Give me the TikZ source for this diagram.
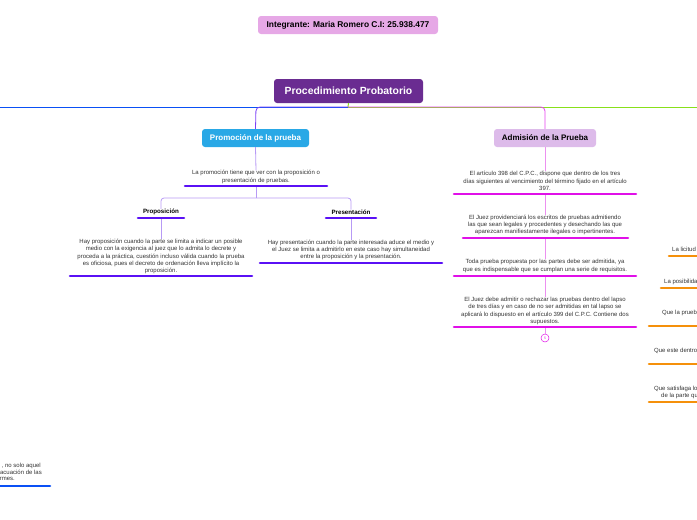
\documentclass[tikz,border=0pt]{standalone}
\usepackage{fontspec}
\setmainfont{Liberation Sans}
\begin{document}
\begin{tikzpicture}[x=1pt,y=-1pt,
  txt/.style={font=\fontsize{6}{7.4}\selectfont, text=black!80, align=center, inner sep=0pt},
  lbl/.style={font=\bfseries\fontsize{6.2}{7}\selectfont, inner sep=0pt},
  ul/.style={line width=2.6pt, line cap=round},
  con/.style={line width=0.8pt},
  hdr/.style={rounded corners=3pt, font=\bfseries\fontsize{8}{9}\selectfont, inner sep=0pt}]
\useasboundingbox (0,0) rectangle (697,520);
\clip (0,0) rectangle (697,520);
\definecolor{mainp}{HTML}{6A2C91}
\definecolor{cyanb}{HTML}{29A8E6}
\definecolor{lilac}{HTML}{DDBBEA}
\definecolor{pinkb}{HTML}{E6A8E6}
\definecolor{viol}{HTML}{5A10F5}
\definecolor{mag}{HTML}{E010E8}
\definecolor{org}{HTML}{F5900A}
\definecolor{blu}{HTML}{0A50F5}
\definecolor{lav}{HTML}{B79AF5}
\definecolor{lmag}{HTML}{EC90F0}
\definecolor{grn}{HTML}{88E01A}

\node[hdr, fill=pinkb, minimum width=180pt, minimum height=18pt, font=\bfseries\fontsize{8.4}{9}\selectfont] (int) at (348,25) {Integrante: Maria Romero C.I: 25.938.477};
\node[hdr, fill=mainp, text=white, minimum width=149pt, minimum height=24pt, font=\bfseries\fontsize{10.4}{11}\selectfont] (main) at (348.5,91) {Procedimiento Probatorio};

\coordinate (j) at (348,107);
\draw[line width=1pt, blu] (j) -- (0,107);
\draw[line width=1pt, grn] (j) -- (697,107);
\draw[line width=1pt, grn] (main.south) -- (j);

\node[hdr, fill=cyanb, text=white, minimum width=107pt, minimum height=18pt] (prom) at (255.5,138) {Promoción de la prueba};
\node[hdr, fill=lilac, minimum width=102pt, minimum height=18pt] (adm) at (545,138) {Admisión de la Prueba};
\draw[con, viol!80, rounded corners=4pt] (j) -- (256,107) -- (prom.north);
\draw[con, mag!80, rounded corners=4pt] (j) -- (545,107) -- (adm.north);

% Promocion branch
\node[txt] (p0) at (256,177) {La promoción tiene que ver con la proposición o\\presentación de pruebas.};
\draw[ul, viol] (185,186) -- (327,186);
\draw[con, lav] (prom.south) -- (p0.north);
\coordinate (b) at (256,198);
\draw[con, lav] (256,187) -- (b);
\node[lbl] (pro) at (161,212) {Proposición};
\node[lbl] (pre) at (351,212) {Presentación};
\draw[con, lav, rounded corners=3pt] (b) -- (161,198) -- (pro.north);
\draw[con, lav, rounded corners=3pt] (b) -- (351,198) -- (pre.north);
\draw[ul, viol] (138,218) -- (184,218);
\draw[ul, viol] (326,218) -- (376,218);
\node[txt] (pro1) at (161,256.5) {Hay proposición cuando la parte se limita a indicar un posible\\medio con la exigencia al juez que lo admita lo decrete y\\proceda a la práctica, cuestión incluso válida cuando la prueba\\es oficiosa, pues el decreto de ordenación lleva implícito la\\proposición.};
\draw[ul, viol] (70,276) -- (252,276);
\node[txt] (pre1) at (351,250) {Hay presentación cuando la parte interesada aduce el medio y\\el Juez se limita a admitirlo en este caso hay simultaneidad\\entre la proposición y la presentación.};
\draw[ul, viol] (260,263) -- (442,263);
\draw[con, lav] (161,219) -- (pro1.north);
\draw[con, lav] (351,219) -- (pre1.north);

% Admision branch
\node[txt] (a1) at (545,181) {El artículo 398 del C.P.C., dispone que dentro de los tres\\días siguientes al vencimiento del término fijado en el artículo\\397.};
\draw[ul, mag] (454,194) -- (636,194);
\node[txt] (a2) at (545,225) {El Juez providenciará los escritos de pruebas admitiendo\\las que sean legales y procedentes y desechando las que\\aparezcan manifiestamente ilegales o impertinentes.};
\draw[ul, mag] (463,238) -- (628,238);
\node[txt] (a3) at (545,266) {Toda prueba propuesta por las partes debe ser admitida, ya\\que es indispensable que se cumplan una serie de requisitos.};
\draw[ul, mag] (454,276) -- (636,276);
\node[txt] (a4) at (545,311) {El Juez debe admitir o rechazar las pruebas dentro del lapso\\de tres días y en caso de no ser admitidas en tal lapso se\\aplicará lo dispuesto en el artículo 399 del C.P.C. Contiene dos\\supuestos.};
\draw[ul, mag] (454,327) -- (636,327);
\draw[con, lmag] (adm.south) -- (a1.north);
\draw[con, lmag] (545,195) -- (a2.north);
\draw[con, lmag] (545,239) -- (a3.north);
\draw[con, lmag] (545,277) -- (a4.north);
\node[draw=mag, circle, line width=0.5pt, minimum size=8pt, inner sep=0pt, font=\fontsize{3.5}{4}\selectfont, text=mag] (cc) at (545,338) {5};
\draw[con, lmag] (545,328) -- (cc.north);

% Right orange column (cut off at the page edge, as in the reference)
\node[txt, anchor=west] (r1) at (672,250) {La licitud de la prueba};
\draw[ul, org] (669,256) -- (700,256);
\node[txt, anchor=west] (r2) at (664,281.5) {La posibilidad de la prueba};
\draw[ul, org] (661,288) -- (700,288);
\node[txt, anchor=west] (r3) at (662,313) {Que la prueba sea pertinente};
\draw[ul, org] (649,326) -- (700,326);
\node[txt, anchor=west] (r4) at (654,351) {Que este dentro del lapso};
\draw[ul, org] (649,364) -- (700,364);
\node[txt, anchor=west, align=left] (r5) at (654,392.5) {Que satisfaga los requisitos\\\hspace*{7pt}de la parte que la promueve};
\draw[ul, org] (649,402) -- (700,402);

% Left bottom (cut off)
\node[txt, anchor=east] (l1) at (41,466) {, no solo aquel};
\node[txt, anchor=east] (l2) at (42,472.5) {acuación de las};
\node[txt, anchor=east] (l3) at (15,479) {rmes.};
\draw[ul, blu] (-5,486) -- (50,486);
\end{tikzpicture}
\end{document}
